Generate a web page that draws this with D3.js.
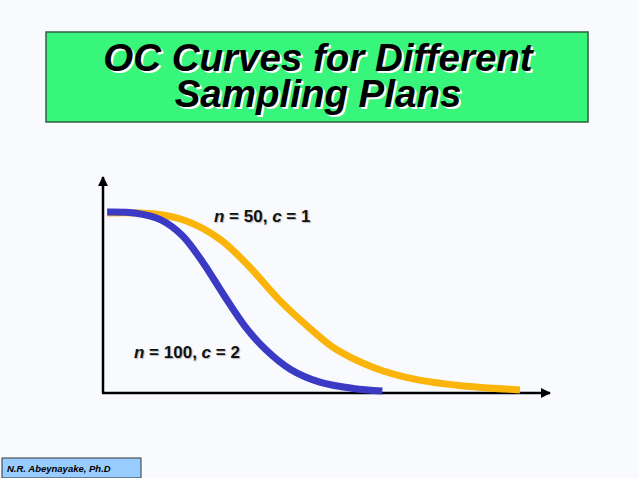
<!DOCTYPE html>
<html>
<head>
<meta charset="utf-8">
<script src="https://cdn.jsdelivr.net/npm/d3@7"></script>
<style>
  body { margin: 0; background: #f8fafe; }
  svg { display: block; }
</style>
</head>
<body>
<div id="chart-area"></div>
<script>
// OC curves: percent defective vs probability of acceptance
var titleLines = ["OC Curves for Different", "Sampling Plans"];
var footer = "N.R. Abeynayake, Ph.D";

var pctDefective50 = [0.1, 1.2, 2.0, 2.8, 3.5, 4.2, 4.9, 5.6, 6.5, 7.5, 8.6, 10.0];
var probAccept50   = [0.995, 0.99, 0.95, 0.85, 0.70, 0.52, 0.37, 0.24, 0.14, 0.075, 0.04, 0.017];

var pctDefective100 = [0.1, 0.8, 1.4, 1.9, 2.4, 2.9, 3.4, 3.9, 4.5, 5.2, 6.0, 6.7];
var probAccept100   = [1.0, 0.993, 0.955, 0.87, 0.72, 0.54, 0.37, 0.24, 0.13, 0.06, 0.025, 0.011];

var width = 638, height = 478;

var svg = d3.select("#chart-area").append("svg")
	.attr("width", width)
	.attr("height", height);

svg.append("rect")
	.attr("width", width).attr("height", height)
	.attr("fill", "#f8fafe");

// title box
svg.append("rect")
	.attr("x", 46).attr("y", 32)
	.attr("width", 542).attr("height", 90)
	.attr("fill", "#38f57c")
	.attr("stroke", "#2f5f3f")
	.attr("stroke-width", 1.5);

var title = svg.append("text")
	.attr("y", 71)
	.attr("text-anchor", "middle")
	.attr("font-family", "Liberation Sans, Arial, sans-serif")
	.attr("font-weight", "bold")
	.attr("font-style", "italic")
	.attr("font-size", 38.5)
	.attr("fill", "#000")
	.style("text-shadow", "2px 2px 0 #ffffff");

titleLines.forEach((t, i) => {
	title.append("tspan")
		.attr("x", 318)
		.attr("dy", i == 0 ? 0 : 36)
		.text(t);
});

// scales
var x = d3.scaleLinear().domain([0, 10]).range([103, 520]);
var y = d3.scaleLinear().domain([0, 1]).range([393, 212]);

// axes with arrow heads
var defs = svg.append("defs");
defs.append("marker")
	.attr("id", "arrow")
	.attr("viewBox", "0 0 10 10")
	.attr("refX", 9).attr("refY", 5)
	.attr("markerWidth", 4).attr("markerHeight", 4)
	.attr("orient", "auto")
	.append("path")
	.attr("d", "M0,0 L10,5 L0,10 z")
	.attr("fill", "#000");

svg.append("line")
	.attr("x1", x(0)).attr("y1", y(0))
	.attr("x2", x(0)).attr("y2", 177)
	.attr("stroke", "#000").attr("stroke-width", 2.5)
	.attr("marker-end", "url(#arrow)");

svg.append("line")
	.attr("x1", x(0) - 1).attr("y1", y(0))
	.attr("x2", 550).attr("y2", y(0))
	.attr("stroke", "#000").attr("stroke-width", 2.5)
	.attr("marker-end", "url(#arrow)");

var line = d3.line()
	.x(d => x(d[0]))
	.y(d => y(d[1]))
	.curve(d3.curveCatmullRom.alpha(0.5));

svg.append("path")
	.datum(d3.zip(pctDefective50, probAccept50))
	.attr("d", line)
	.attr("fill", "none")
	.attr("stroke", "#fbb40a")
	.attr("stroke-width", 7);

svg.append("path")
	.datum(d3.zip(pctDefective100, probAccept100))
	.attr("d", line)
	.attr("fill", "none")
	.attr("stroke", "#3a3ac4")
	.attr("stroke-width", 7);

// plan labels
function planLabel(px, py, n, c) {
	var t = svg.append("text")
		.attr("x", px).attr("y", py)
		.attr("font-family", "Liberation Sans, Arial, sans-serif")
		.attr("font-weight", "bold")
		.attr("font-size", 17)
		.attr("fill", "#111")
		.style("text-shadow", "1px 1px 1px #bbb");
	t.append("tspan").attr("font-style", "italic").text("n");
	t.append("tspan").text(" = " + n + ", ");
	t.append("tspan").attr("font-style", "italic").text("c");
	t.append("tspan").text(" = " + c);
}
planLabel(214, 222, 50, 1);
planLabel(134, 358, 100, 2);

// footer
svg.append("rect")
	.attr("x", 2).attr("y", 458)
	.attr("width", 139).attr("height", 20)
	.attr("fill", "#99ccff")
	.attr("stroke", "#333")
	.attr("stroke-width", 1);

svg.append("text")
	.attr("x", 7).attr("y", 472)
	.attr("font-family", "Liberation Sans, Arial, sans-serif")
	.attr("font-weight", "bold")
	.attr("font-style", "italic")
	.attr("font-size", 9.5)
	.attr("fill", "#000")
	.text(footer);
</script>
</body>
</html>
